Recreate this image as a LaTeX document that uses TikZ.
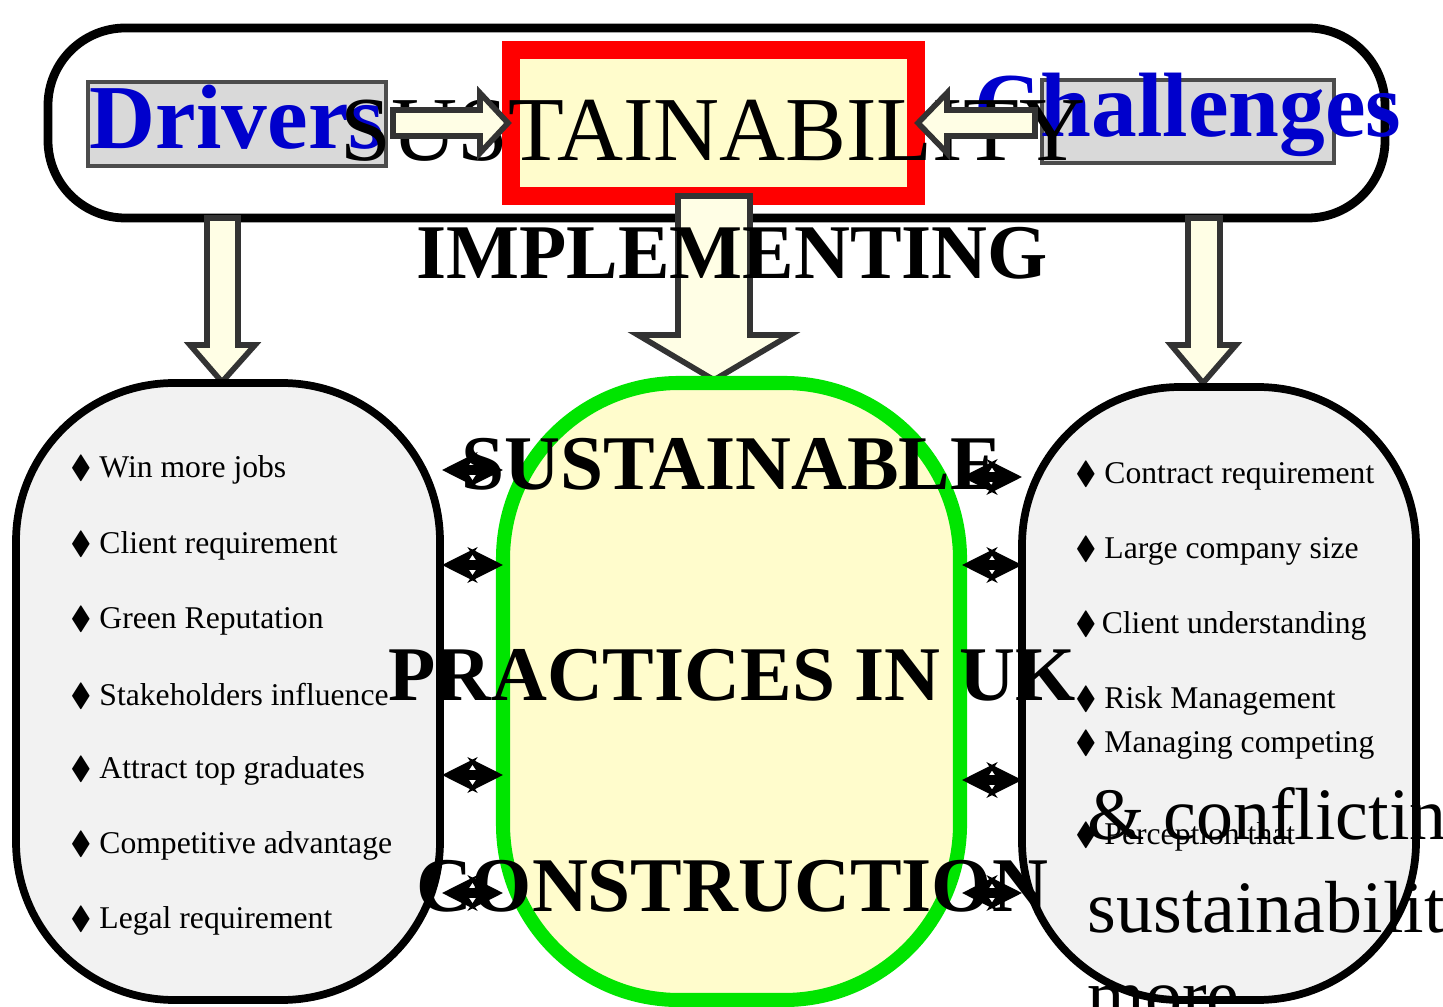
\documentclass[tikz,border=0pt]{standalone}
\usepackage{amssymb}
\usepackage{fontspec}
\setmainfont{Liberation Serif}
\usetikzlibrary{arrows.meta}
\begin{document}
\begin{tikzpicture}[x=0.01cm,y=-0.01cm,
  barrow/.style={draw=black!80,line width=1.6pt,fill=orange!10!yellow!10!white,line join=miter},
  panel/.style={draw=black,line width=2.2pt,rounded corners=45pt,fill=black!5},
  grayb/.style={draw=black!70,line width=1pt,fill=black!15},
  hd/.style={font=\bfseries\fontsize{26}{30}\selectfont,text=blue!80!black},
  itm/.style={anchor=west,font=\fontsize{21}{25}\selectfont,align=left},
  dbl/.style={<->,>={Stealth[length=10pt,width=10pt]},line width=3pt},
  mid/.style={font=\bfseries\fontsize{22}{60}\selectfont,align=center}]
\useasboundingbox (0,0) rectangle (1443,1007);
\draw[line width=2.5pt,rounded corners=22pt] (48,28) rectangle (1385,218);
\draw[grayb] (88,82) rectangle (386,166);
\node[hd] (drvt) at (237,117) {Drivers};
\draw[grayb] (1042,80) rectangle (1334,163);
\node[hd] (chl) at (1188,115) {Challenges};
\draw[draw=red,line width=5pt,fill=yellow!20] (511,50) rectangle (916,196);
\node[font=\fontsize{26}{30}\selectfont] (sus) at (713,131) {SUSTAINABILITY};
% horizontal block arrows
\draw[barrow] (393,110)--(480,110)--(480,93)--(508,123)--(480,153)--(480,136)--(393,136)--cycle;
\draw[barrow] (1035,110)--(947,110)--(947,93)--(918,123)--(947,153)--(947,136)--(1035,136)--cycle;
% down arrows
\draw[barrow] (207,218)--(238,218)--(238,345)--(255,345)--(222,382)--(190,345)--(207,345)--cycle;
\draw[barrow] (678,196)--(750,196)--(750,335)--(790,335)--(714,380)--(638,335)--(678,335)--cycle;
\draw[barrow] (1188,218)--(1220,218)--(1220,345)--(1236,345)--(1203,383)--(1171,345)--(1188,345)--cycle;
% panels
\draw[panel] (16,383) rectangle (440,1000);
\draw[panel,draw=green!90!black,line width=4pt,rounded corners=50pt,fill=yellow!20] (503,383) rectangle (960,1000);
\draw[panel] (1022,387) rectangle (1416,1000);
\node[mid] (imp) at (732,675) {IMPLEMENTING\\SUSTAINABLE\\PRACTICES IN UK\\CONSTRUCTION\\ORGANIZATIONS};
% left items
\foreach \y/\t in {470/Win more jobs,546/Client requirement,621/Green Reputation,696/Stakeholders influence,771/Attract top graduates,846/Competitive advantage,921/Legal requirement}
  \node[itm] at (58,\y) {\small$\blacklozenge$\ \t};
\node[itm] at (1063,476) {\small$\blacklozenge$\ Contract requirement};
\node[itm] at (1063,551) {\small$\blacklozenge$\ Large company size};
\node[itm] at (1063,626) {\small$\blacklozenge$\,Client understanding};
\node[itm] at (1063,701) {\small$\blacklozenge$\ Risk Management};
\node[itm] at (1063,793) {\small$\blacklozenge$\ Managing competing\\\,\& conflicting targets};
\node[itm] at (1063,922) {\small$\blacklozenge$\ Perception that\\\,sustainability cost\\\,more};
% double arrows
\foreach \y in {470,565,775,893} \draw[dbl] (442,\y)--(503,\y);
\foreach \y in {477,565,780,893} \draw[dbl] (962,\y)--(1022,\y);
\end{tikzpicture}
\end{document}
